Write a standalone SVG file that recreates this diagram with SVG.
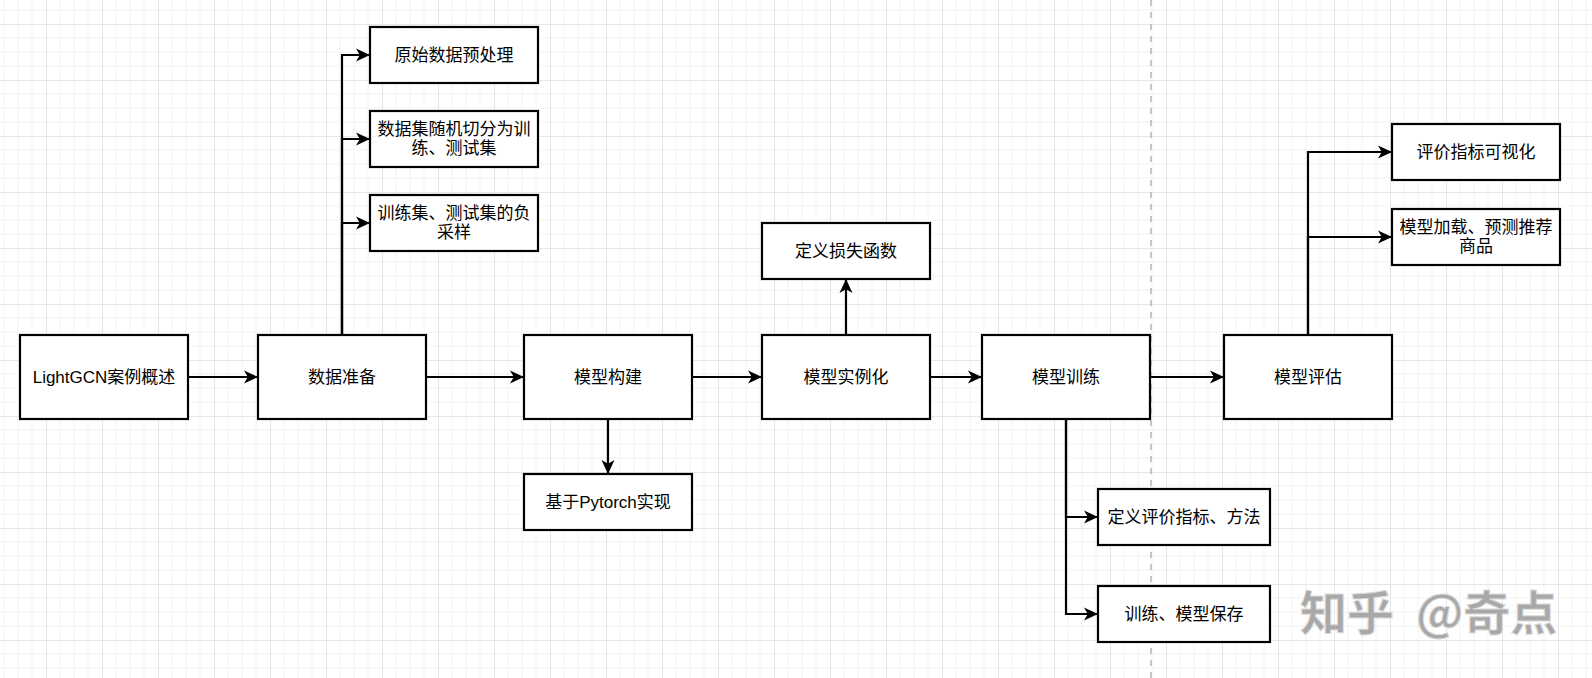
<svg xmlns="http://www.w3.org/2000/svg" width="1592" height="678" viewBox="0 0 1592 678">
<defs>
<pattern id="grid" patternUnits="userSpaceOnUse" x="46" y="24" width="56" height="56">
<path d="M14,0V56M28,0V56M42,0V56M0,14H56M0,28H56M0,42H56" stroke="#f3f3f3" stroke-width="1" fill="none"/>
<path d="M0.5,0V56M0,0.5H56" stroke="#e6e6e6" stroke-width="1" fill="none"/>
</pattern>
<marker id="arr" markerUnits="userSpaceOnUse" markerWidth="15" markerHeight="14" refX="14" refY="7" orient="auto">
<path d="M0,0.5 L14,7 L0,13.5 L3.8,7 Z" fill="#000"/>
</marker>
</defs>
<style>
.box{fill:#fff;stroke:#000;stroke-width:2.2}
.t{font-family:"Liberation Sans","Noto Sans CJK SC",sans-serif;font-size:17px;fill:#000;text-anchor:middle}
.c{fill:none;stroke:#000;stroke-width:2.2;marker-end:url(#arr)}
.wm{font-family:"Noto Sans CJK SC","Liberation Sans",sans-serif;font-size:47px;font-weight:bold;fill:#a8a8a8;stroke:#dcdcdc;stroke-width:1}
</style>
<rect width="1592" height="678" fill="#fff"/>
<rect width="1592" height="678" fill="url(#grid)"/>
<line x1="1151" y1="0" x2="1151" y2="678" stroke="#b4b4b4" stroke-width="1.5" stroke-dasharray="6 6"/>
<g id="connectors">
<path class="c" d="M188,377H258"/>
<path class="c" d="M426,377H524"/>
<path class="c" d="M692,377H762"/>
<path class="c" d="M930,377H982"/>
<path class="c" d="M1150,377H1224"/>
<path class="c" d="M342,335V55H370"/>
<path class="c" d="M342,335V139H370"/>
<path class="c" d="M342,335V223H370"/>
<path class="c" d="M608,419V474"/>
<path class="c" d="M846,335V279"/>
<path class="c" d="M1066,419V517H1098"/>
<path class="c" d="M1066,419V614H1098"/>
<path class="c" d="M1308,335V152H1392"/>
<path class="c" d="M1308,335V237H1392"/>
</g>
<g id="n1"><rect class="box" x="20" y="335" width="168" height="84"/><text class="t" x="104" y="383">LightGCN案例概述</text></g>
<g id="n2"><rect class="box" x="258" y="335" width="168" height="84"/><text class="t" x="342" y="383">数据准备</text></g>
<g id="n3"><rect class="box" x="524" y="335" width="168" height="84"/><text class="t" x="608" y="383">模型构建</text></g>
<g id="n4"><rect class="box" x="762" y="335" width="168" height="84"/><text class="t" x="846" y="383">模型实例化</text></g>
<g id="n5"><rect class="box" x="982" y="335" width="168" height="84"/><text class="t" x="1066" y="383">模型训练</text></g>
<g id="n6"><rect class="box" x="1224" y="335" width="168" height="84"/><text class="t" x="1308" y="383">模型评估</text></g>
<g id="n7"><rect class="box" x="370" y="27" width="168" height="56"/><text class="t" x="454" y="61">原始数据预处理</text></g>
<g id="n8"><rect class="box" x="370" y="111" width="168" height="56"/><text class="t" x="454" y="135">数据集随机切分为训</text><text class="t" x="454" y="154">练、测试集</text></g>
<g id="n9"><rect class="box" x="370" y="195" width="168" height="56"/><text class="t" x="454" y="219">训练集、测试集的负</text><text class="t" x="454" y="238">采样</text></g>
<g id="n10"><rect class="box" x="524" y="474" width="168" height="56"/><text class="t" x="608" y="508">基于Pytorch实现</text></g>
<g id="n11"><rect class="box" x="762" y="223" width="168" height="56"/><text class="t" x="846" y="257">定义损失函数</text></g>
<g id="n12"><rect class="box" x="1098" y="489" width="172" height="56"/><text class="t" x="1184" y="523">定义评价指标、方法</text></g>
<g id="n13"><rect class="box" x="1098" y="586" width="172" height="56"/><text class="t" x="1184" y="620">训练、模型保存</text></g>
<g id="n14"><rect class="box" x="1392" y="124" width="168" height="56"/><text class="t" x="1476" y="158">评价指标可视化</text></g>
<g id="n15"><rect class="box" x="1392" y="209" width="168" height="56"/><text class="t" x="1476" y="233">模型加载、预测推荐</text><text class="t" x="1476" y="252">商品</text></g>
<text class="wm" x="1300" y="630">知乎<tspan x="1416">@奇点</tspan></text>
</svg>
